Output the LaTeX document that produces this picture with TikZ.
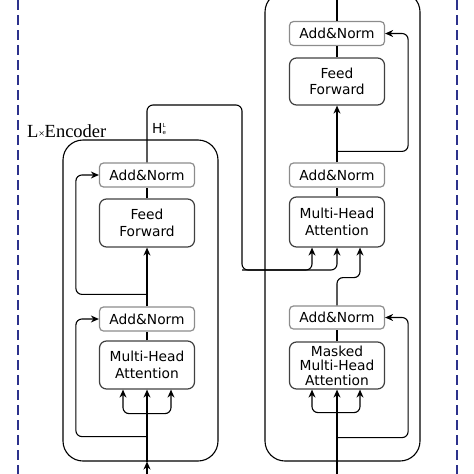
\documentclass[tikz,border=0pt]{standalone}
\usepackage{fontspec}
\setmainfont{DejaVu Sans}
\newfontfamily\labelfont{Liberation Serif}
\usetikzlibrary{arrows.meta, positioning}
\definecolor{dashblue}{RGB}{45,50,140}
\tikzset{
    wire/.style={line width=1.1pt},
    arr/.style={wire, -{Stealth[length=8pt, width=7pt]}},
    norm/.style={draw=black!45, line width=1.2pt, rounded corners=4pt, minimum width=95pt, minimum height=24pt, inner sep=0pt, font=\fontsize{13.8}{16}\selectfont},
    block/.style={draw=black!75, line width=1.2pt, rounded corners=7pt, minimum width=95pt, minimum height=48pt, inner sep=0pt, align=center, font=\fontsize{13.8}{16.5}\selectfont},
    stack/.style={draw, line width=1.1pt, rounded corners=20pt, inner sep=0pt},
    dashline/.style={dashblue, line width=2.6pt, dash pattern=on 10pt off 5pt}
}

\begin{document}
\begin{tikzpicture}[x=1pt, y=-1pt]
    \useasboundingbox (0,0) rectangle (474,474);
    % Borders
    \draw[dashline] (18,0) -- (18,474);
    \draw[dashline] (457,0) -- (457,474);
    % Stacks
    \node[stack, minimum width=155pt, minimum height=321pt] (enc) at (140.5,300.5) {};
    \node[stack, minimum width=155pt, minimum height=469pt] (dec) at (342.5,226.5) {};
    \node[anchor=base west, inner sep=0pt, font=\labelfont\fontsize{18.5}{18.5}\selectfont] (enclabel) at (27,137) {L{\fontsize{11}{11}\selectfont ×}Encoder};
    % Encoder
    \node[norm] (enan2) at (147,175) {Add\&Norm};
    \node[block] (enff) at (147,223) {Feed\\Forward};
    \node[norm] (enan1) at (147,319) {Add\&Norm};
    \node[block] (enmha) at (147,365) {Multi-Head\\Attention};
    % Decoder
    \node[norm] (dean3) at (337,33.5) {Add\&Norm};
    \node[block, minimum height=47pt] (deff) at (337,81.5) {Feed\\Forward};
    \node[norm] (dean2) at (337,175) {Add\&Norm};
    \node[block, minimum height=50pt] (demha) at (337,222) {Multi-Head\\Attention};
    \node[norm, minimum height=23pt] (dean1) at (337,317.5) {Add\&Norm};
    \node[block, minimum height=47pt, font=\fontsize{13.8}{14.5}\selectfont] (demmha) at (337,365.5) {Masked\\Multi-Head\\Attention};
    % Encoder wires
    \coordinate (enin) at (147,474);
    \draw[arr] (enin) -- (enc.south -| enmha);
    \draw[arr] (enc.south -| enmha) -- (enmha);
    \draw[arr, rounded corners=6pt] ([yshift=-24pt]enmha.south) -| ([xshift=-24pt]enmha.south);
    \draw[arr, rounded corners=6pt] ([yshift=-24pt]enmha.south) -| ([xshift=24pt]enmha.south);
    \draw[arr, rounded corners=6pt] ([yshift=-47pt]enmha.south) -| ([xshift=-23pt]enan1.west) -- (enan1.west);
    \draw[wire] (enmha) -- (enan1);
    \draw[arr] (enan1) -- (enff);
    \draw[arr, rounded corners=6pt] ([yshift=12pt]enan1.north) -| ([xshift=-23pt]enan2.west) -- (enan2.west);
    \draw[wire] (enff) -- (enan2);
    % Encoder output into decoder
    \coordinate (hbend) at (242,105);
    \coordinate (hlow) at (242,270);
    \draw[arr, rounded corners=6pt] (enan2.north) |- (hbend) -- (hlow) -| (demha.south);
    \draw[arr, rounded corners=6pt] (hlow) -| ([xshift=-25pt]demha.south);
    \node[anchor=base west, font=\fontsize{13.8}{16}\selectfont, inner sep=0pt] (hlabel) at (152,133) {H\raisebox{2.5pt}{\fontsize{5.5}{7.5}\selectfont\begin{tabular}{@{}l@{}}L\\e\end{tabular}}};
    % Decoder wires
    \coordinate (dein) at (337,474);
    \coordinate (deout) at (337,-10);
    \draw[arr] (dein) -- (demmha);
    \draw[arr, rounded corners=6pt] ([yshift=-23pt]demmha.south) -| ([xshift=-25pt]demmha.south);
    \draw[arr, rounded corners=6pt] ([yshift=-23pt]demmha.south) -| ([xshift=23pt]demmha.south);
    \draw[arr, rounded corners=6pt] ([yshift=-48pt]demmha.south) -| ([xshift=23pt]dean1.east) -- (dean1.east);
    \draw[wire] (demmha) -- (dean1);
    \draw[arr, rounded corners=6pt] (dean1.north) -- ([yshift=-30pt]demha.south) -| ([xshift=23pt]demha.south);
    \draw[wire] (demha) -- (dean2);
    \draw[arr] (dean2) -- (deff);
    \draw[arr, rounded corners=6pt] ([yshift=11pt]dean2.north) -| ([xshift=23pt]dean3.east) -- (dean3.east);
    \draw[wire] (deff) -- (dean3);
    \draw[wire] (dean3) -- (deout);
\end{tikzpicture}
\end{document}
